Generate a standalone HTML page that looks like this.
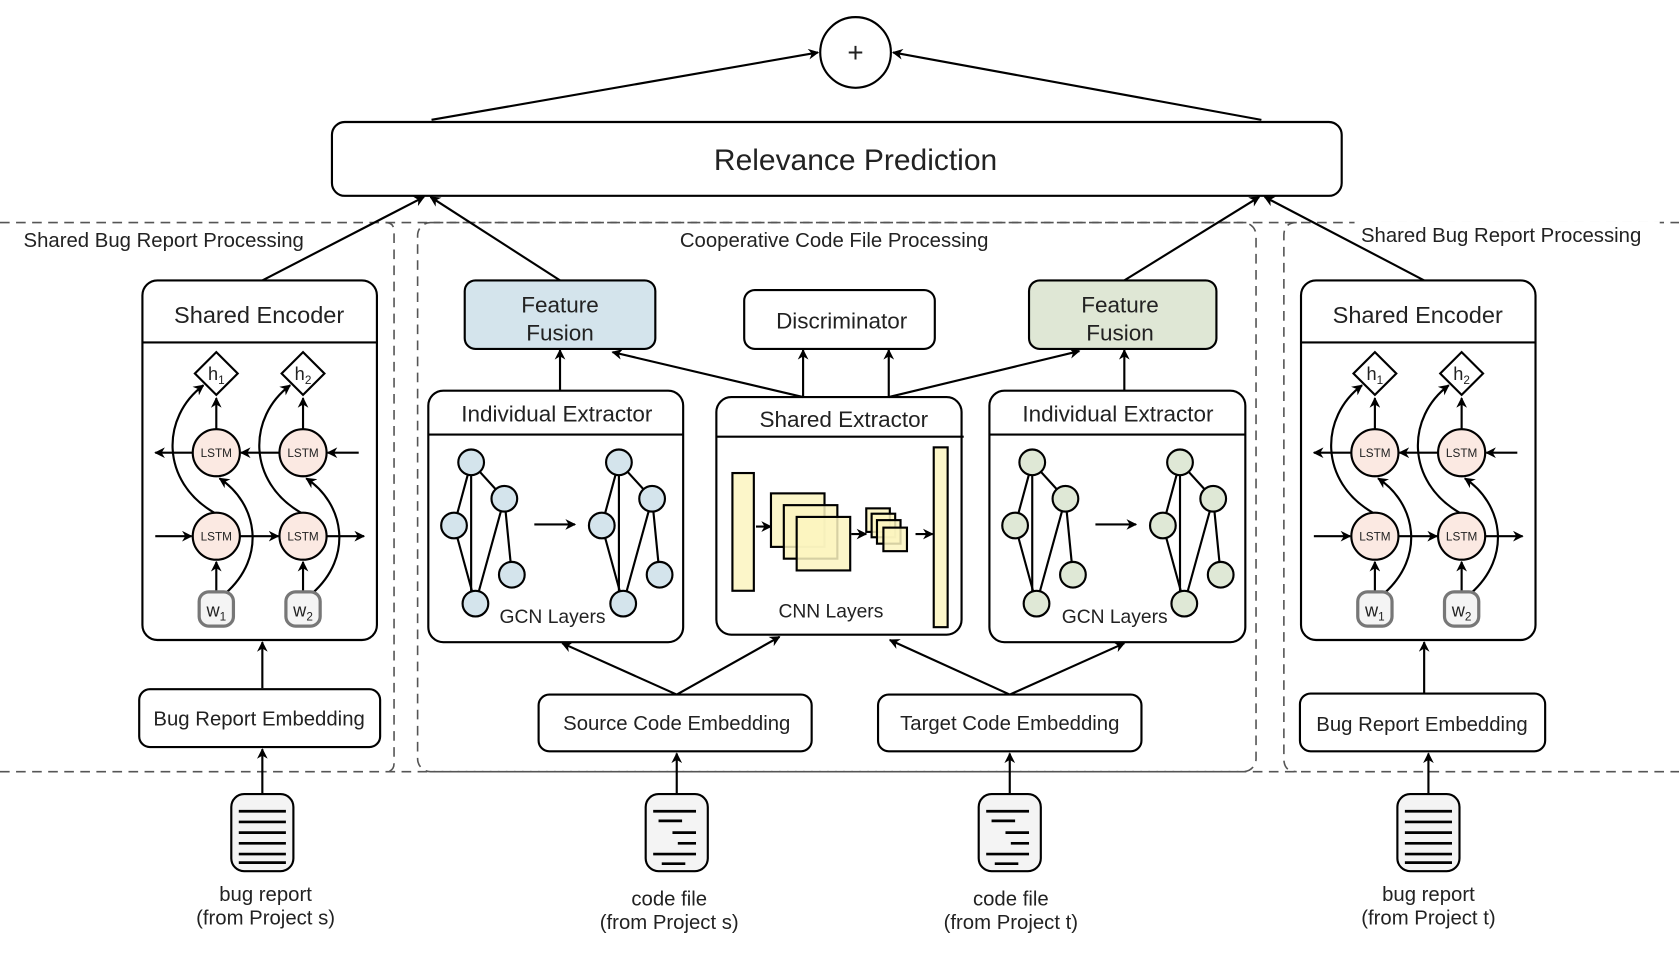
<!DOCTYPE html>
<html><head><meta charset="utf-8"><style>
html,body{margin:0;padding:0;background:#fff}
svg{display:block}
text{font-family:"Liberation Sans",sans-serif;fill:#222}
</style></head><body>
<svg width="1679" height="960" viewBox="0 0 1568 897" preserveAspectRatio="none" xmlns="http://www.w3.org/2000/svg">
<defs>
<marker id="a" markerWidth="10" markerHeight="10" refX="9" refY="5" orient="auto" markerUnits="userSpaceOnUse"><path d="M0,0 L10,5 L0,10 L3,5 z" fill="#000"/></marker>
<g id="enc">
<rect x="133" y="262" width="219" height="336" rx="14" fill="#fff" stroke="#000" stroke-width="2"/>
<line x1="133" y1="320" x2="352" y2="320" stroke="#000" stroke-width="2"/>
<text x="242" y="302" font-size="22" text-anchor="middle">Shared Encoder</text>
<g stroke="#000" stroke-width="2" fill="none">
<line x1="335" y1="423" x2="306" y2="423" marker-end="url(#a)"/>
<line x1="261" y1="423" x2="225" y2="423" marker-end="url(#a)"/>
<line x1="180" y1="423" x2="145" y2="423" marker-end="url(#a)"/>
<line x1="145" y1="501" x2="179" y2="501" marker-end="url(#a)"/>
<line x1="224" y1="501" x2="260" y2="501" marker-end="url(#a)"/>
<line x1="305" y1="501" x2="340" y2="501" marker-end="url(#a)"/>
<line x1="202" y1="401" x2="202" y2="372" marker-end="url(#a)"/>
<line x1="283" y1="401" x2="283" y2="372" marker-end="url(#a)"/>
<line x1="202" y1="553" x2="202" y2="525" marker-end="url(#a)"/>
<line x1="283" y1="553" x2="283" y2="525" marker-end="url(#a)"/>
<path d="M210,555 C250,520 240,470 205,447" marker-end="url(#a)"/>
<path d="M291,555 C331,520 321,470 286,447" marker-end="url(#a)"/>
<path d="M200,479 C150,450 150,390 190,360" marker-end="url(#a)"/>
<path d="M281,479 C231,450 231,390 271,360" marker-end="url(#a)"/>
</g>
<g stroke="#000" stroke-width="2" fill="#fbe9e2">
<circle cx="202" cy="423" r="22"/><circle cx="283" cy="423" r="22"/>
<circle cx="202" cy="501" r="22"/><circle cx="283" cy="501" r="22"/>
</g>
<g stroke="#000" stroke-width="2" fill="#fff">
<path d="M202,329 L222,349 L202,369 L182,349 z"/>
<path d="M283,329 L303,349 L283,369 L263,349 z"/>
</g>
<g stroke="#777" stroke-width="3" fill="#f4f4f4">
<rect x="186" y="553" width="32" height="32" rx="9"/>
<rect x="267" y="553" width="32" height="32" rx="9"/>
</g>
<g font-size="11" text-anchor="middle">
<text x="202" y="427">LSTM</text><text x="283" y="427">LSTM</text>
<text x="202" y="505">LSTM</text><text x="283" y="505">LSTM</text>
</g>
<g font-size="17" text-anchor="middle">
<text x="202" y="355">h<tspan font-size="11" dy="4">1</tspan></text>
<text x="283" y="355">h<tspan font-size="11" dy="4">2</tspan></text>
<text x="202" y="576">w<tspan font-size="11" dy="4">1</tspan></text>
<text x="283" y="576">w<tspan font-size="11" dy="4">2</tspan></text>
</g>
</g>
<g id="graph">
<g stroke="#000" stroke-width="2">
<line x1="440" y1="432" x2="424" y2="491"/><line x1="440" y1="432" x2="440" y2="564"/>
<line x1="440" y1="432" x2="471" y2="466"/><line x1="471" y1="466" x2="444" y2="564"/>
<line x1="424" y1="491" x2="444" y2="564"/><line x1="471" y1="466" x2="478" y2="537"/>
</g>
<g stroke="#000" stroke-width="2">
<circle cx="440" cy="432" r="12"/><circle cx="471" cy="466" r="12"/><circle cx="424" cy="491" r="12"/>
<circle cx="478" cy="537" r="12"/><circle cx="444" cy="564" r="12"/>
</g>
</g>
<g id="doc">
<rect x="-29" y="742" width="58" height="72" rx="12" fill="#f4f4f4" stroke="#000" stroke-width="2"/>
</g>
</defs>

<circle cx="799" cy="49" r="33" fill="#fff" stroke="#000" stroke-width="2"/>
<text x="799" y="58" font-size="26" text-anchor="middle">+</text>
<g stroke="#000" stroke-width="2" fill="none">
<line x1="403" y1="112" x2="764" y2="49" marker-end="url(#a)"/>
<line x1="1178" y1="112" x2="834" y2="49" marker-end="url(#a)"/>
</g>
<rect x="310" y="114" width="943" height="69" rx="12" fill="#fff" stroke="#000" stroke-width="2"/>
<text x="799" y="159" font-size="28" text-anchor="middle">Relevance Prediction</text>

<g stroke="#555" stroke-width="1.5" fill="none" stroke-dasharray="9,6">
<line x1="0" y1="208" x2="1568" y2="208"/>
<line x1="0" y1="721" x2="1568" y2="721"/>
<path d="M360,208 Q368,208 368,216 L368,713 Q368,721 360,721"/>
<rect x="390" y="208" width="783" height="513" rx="12"/>
<path d="M1211,208 Q1199,208 1199,220 L1199,709 Q1199,721 1211,721"/>
</g>
<rect x="18" y="212" width="282" height="24" fill="#fff"/>
<rect x="620" y="212" width="320" height="24" fill="#fff"/>
<rect x="1265" y="207" width="285" height="24" fill="#fff"/>
<text x="22" y="231" font-size="19">Shared Bug Report Processing</text>
<text x="779" y="231" font-size="19" text-anchor="middle">Cooperative Code File Processing</text>
<text x="1271" y="226" font-size="19">Shared Bug Report Processing</text>

<use href="#enc"/>
<use href="#enc" transform="translate(1082,0)"/>

<g stroke="#000" stroke-width="2" fill="#fff">
<rect x="130" y="644" width="225" height="54" rx="10"/>
<rect x="1214" y="648" width="229" height="54" rx="10"/>
<rect x="503" y="649" width="255" height="53" rx="10"/>
<rect x="820" y="649" width="246" height="53" rx="10"/>
</g>
<g font-size="19" text-anchor="middle">
<text x="242" y="678">Bug Report Embedding</text>
<text x="1328" y="683">Bug Report Embedding</text>
<text x="632" y="682">Source Code Embedding</text>
<text x="943" y="682">Target Code Embedding</text>
</g>
<use href="#doc" transform="translate(245,0)"/>
<use href="#doc" transform="translate(632,0)"/>
<use href="#doc" transform="translate(943,0)"/>
<use href="#doc" transform="translate(1334,0)"/>
<g stroke="#000" stroke-width="2.5">
<line x1="223" y1="758" x2="267" y2="758"/><line x1="223" y1="768" x2="267" y2="768"/><line x1="223" y1="778" x2="267" y2="778"/><line x1="223" y1="788" x2="267" y2="788"/><line x1="223" y1="798" x2="267" y2="798"/><line x1="223" y1="806" x2="267" y2="806"/>
<line x1="1312" y1="758" x2="1356" y2="758"/><line x1="1312" y1="768" x2="1356" y2="768"/><line x1="1312" y1="778" x2="1356" y2="778"/><line x1="1312" y1="788" x2="1356" y2="788"/><line x1="1312" y1="798" x2="1356" y2="798"/><line x1="1312" y1="806" x2="1356" y2="806"/>
<line x1="610" y1="758" x2="650" y2="758"/><line x1="615" y1="767" x2="637" y2="767"/><line x1="628" y1="778" x2="650" y2="778"/><line x1="633" y1="788" x2="650" y2="788"/><line x1="610" y1="798" x2="650" y2="798"/><line x1="618" y1="807" x2="640" y2="807"/>
<line x1="921" y1="758" x2="961" y2="758"/><line x1="926" y1="767" x2="948" y2="767"/><line x1="939" y1="778" x2="961" y2="778"/><line x1="944" y1="788" x2="961" y2="788"/><line x1="921" y1="798" x2="961" y2="798"/><line x1="929" y1="807" x2="951" y2="807"/>
</g>
<g font-size="19" text-anchor="middle">
<text x="248" y="842">bug report</text><text x="248" y="864">(from Project s)</text>
<text x="625" y="846">code file</text><text x="625" y="868">(from Project s)</text>
<text x="944" y="846">code file</text><text x="944" y="868">(from Project t)</text>
<text x="1334" y="842">bug report</text><text x="1334" y="864">(from Project t)</text>
</g>

<g stroke="#000" stroke-width="2">
<rect x="434" y="262" width="178" height="64" rx="10" fill="#d4e4ec"/>
<rect x="695" y="271" width="178" height="55" rx="10" fill="#fff"/>
<rect x="961" y="262" width="175" height="64" rx="10" fill="#dfe7d5"/>
<rect x="400" y="365" width="238" height="235" rx="14" fill="#fff"/>
<rect x="669" y="371" width="229" height="222" rx="14" fill="#fff"/>
<rect x="924" y="365" width="239" height="235" rx="14" fill="#fff"/>
<line x1="400" y1="406" x2="638" y2="406"/>
<line x1="669" y1="408" x2="900" y2="408"/>
<line x1="924" y1="406" x2="1163" y2="406"/>
</g>
<g font-size="21" text-anchor="middle">
<text x="523" y="292">Feature</text><text x="523" y="318">Fusion</text>
<text x="1046" y="292">Feature</text><text x="1046" y="318">Fusion</text>
<text x="786" y="307">Discriminator</text>
<text x="520" y="394">Individual Extractor</text>
<text x="788" y="399">Shared Extractor</text>
<text x="1044" y="394">Individual Extractor</text>
</g>

<g fill="#d4e4ec"><use href="#graph"/><use href="#graph" transform="translate(138,0)"/></g>
<g fill="#dfe8d6"><use href="#graph" transform="translate(524,0)"/><use href="#graph" transform="translate(662,0)"/></g>
<g stroke="#000" stroke-width="2">
<line x1="499" y1="490" x2="537" y2="490" marker-end="url(#a)"/>
<line x1="1023" y1="490" x2="1061" y2="490" marker-end="url(#a)"/>
</g>
<g font-size="18" text-anchor="middle">
<text x="516" y="582">GCN Layers</text>
<text x="1041" y="582">GCN Layers</text>
<text x="776" y="577">CNN Layers</text>
</g>

<g stroke="#000" stroke-width="2" fill="#fbf5c0" fill-opacity="0.85">
<rect x="684" y="442" width="20" height="110"/>
<rect x="720" y="461" width="50" height="50"/>
<rect x="732" y="472" width="50" height="50"/>
<rect x="744" y="483" width="50" height="50"/>
<rect x="809" y="475" width="22" height="22"/>
<rect x="814" y="480" width="22" height="22"/>
<rect x="819" y="486" width="22" height="22"/>
<rect x="825" y="493" width="22" height="22"/>
<rect x="872" y="418" width="13" height="168"/>
</g>
<g stroke="#000" stroke-width="2">
<line x1="706" y1="492" x2="720" y2="492" marker-end="url(#a)"/>
<line x1="795" y1="499" x2="809" y2="499" marker-end="url(#a)"/>
<line x1="855" y1="499" x2="871" y2="499" marker-end="url(#a)"/>
</g>

<g stroke="#000" stroke-width="2" fill="none" marker-end="url(#a)">
<line x1="245" y1="262" x2="396" y2="184"/>
<line x1="523" y1="262" x2="402" y2="184"/>
<line x1="1050" y1="262" x2="1176" y2="184"/>
<line x1="1330" y1="262" x2="1181" y2="184"/>
<line x1="523" y1="365" x2="523" y2="327"/>
<line x1="750" y1="371" x2="572" y2="329"/>
<line x1="750" y1="371" x2="750" y2="327"/>
<line x1="830" y1="371" x2="830" y2="327"/>
<line x1="830" y1="371" x2="1008" y2="328"/>
<line x1="1050" y1="365" x2="1050" y2="327"/>
<line x1="245" y1="643" x2="245" y2="600"/>
<line x1="1330" y1="648" x2="1330" y2="600"/>
<line x1="245" y1="741" x2="245" y2="700"/>
<line x1="632" y1="741" x2="632" y2="704"/>
<line x1="943" y1="741" x2="943" y2="704"/>
<line x1="1334" y1="741" x2="1334" y2="704"/>
<line x1="632" y1="649" x2="525" y2="601"/>
<line x1="632" y1="649" x2="728" y2="595"/>
<line x1="943" y1="649" x2="831" y2="598"/>
<line x1="943" y1="649" x2="1050" y2="601"/>
</g>
</svg>
</body></html>
